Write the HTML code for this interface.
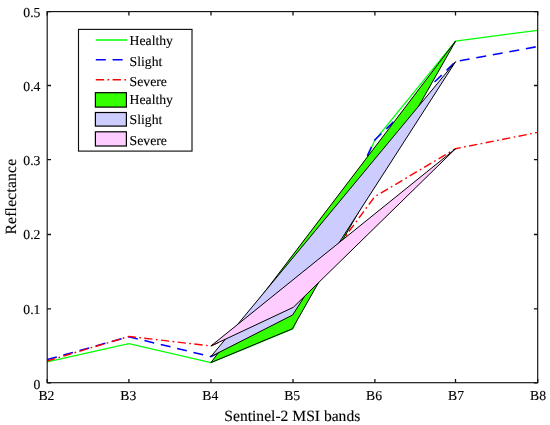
<!DOCTYPE html>
<html><head><meta charset="utf-8"><title>Reflectance</title>
<style>
html,body{margin:0;padding:0;background:#fff;}
body{width:550px;height:425px;overflow:hidden;}
svg{display:block;}
text{font-family:"Liberation Serif",serif;fill:#000;stroke:#000;stroke-width:0.12px;text-rendering:geometricPrecision;}
.t{font-size:13.7px;}
.g{font-size:13.7px;}
.l{font-size:15.6px;}
</style></head><body>
<svg width="550" height="425" viewBox="0 0 550 425">
<rect width="550" height="425" fill="#fff"/>
<polyline points="47.2,361.9 128.9,343.6 210.9,362.6 292.9,328.8 374.6,140.6 455.6,41.1 537.7,30.3" fill="none" stroke="#00ff00" stroke-width="1.3"/>
<polyline points="47.2,359.6 128.9,336.8 210.9,356.6 292.9,315.0 374.6,140.2 455.6,61.6 537.7,46.5" fill="none" stroke="#0000ff" stroke-width="1.55" stroke-dasharray="10.0,6.8"/>
<polyline points="47.2,361.0 128.9,336.4 210.9,346.0 292.9,307.3 374.6,196.8 455.6,148.7 537.7,132.4" fill="none" stroke="#ff0000" stroke-width="1.4" stroke-dasharray="8.3,3.4,1.7,3.4"/>
<polygon points="210.9,362.6 292.3,328.8 455.6,41.1" fill="#33ff00" stroke="#000" stroke-width="1"/>
<polygon points="210.9,356.6 292.6,315.0 455.6,61.6" fill="#ccccff" stroke="#000" stroke-width="1"/>
<polygon points="210.9,346.0 293.3,307.3 455.6,148.7" fill="#ffccff" stroke="#000" stroke-width="1"/>
<rect x="47.2" y="11.6" width="490.5" height="371.1" fill="none" stroke="#111" stroke-width="1.15"/>
<path d="M47.2,382.75v-3.8 M47.2,11.6v3.8 M128.9,382.75v-3.8 M128.9,11.6v3.8 M211.0,382.75v-3.8 M211.0,11.6v3.8 M293.0,382.75v-3.8 M293.0,11.6v3.8 M374.9,382.75v-3.8 M374.9,11.6v3.8 M455.5,382.75v-3.8 M455.5,11.6v3.8 M537.7,382.75v-3.8 M537.7,11.6v3.8 M47.2,382.8h3.8 M537.7,382.8h-3.8 M47.2,308.8h3.8 M537.7,308.8h-3.8 M47.2,234.5h3.8 M537.7,234.5h-3.8 M47.2,159.7h3.8 M537.7,159.7h-3.8 M47.2,85.5h3.8 M537.7,85.5h-3.8 M47.2,11.6h3.8 M537.7,11.6h-3.8" stroke="#111" stroke-width="1.3" fill="none"/>
<text class="t" x="46.4" y="400.35" text-anchor="middle">B2</text>
<text class="t" x="128.3" y="400.35" text-anchor="middle">B3</text>
<text class="t" x="210.3" y="400.35" text-anchor="middle">B4</text>
<text class="t" x="292.2" y="400.35" text-anchor="middle">B5</text>
<text class="t" x="374.1" y="400.35" text-anchor="middle">B6</text>
<text class="t" x="456.1" y="400.35" text-anchor="middle">B7</text>
<text class="t" x="538.0" y="400.35" text-anchor="middle">B8</text>
<text class="t" x="40.4" y="388.5" text-anchor="end">0</text>
<text class="t" x="40.4" y="313.8" text-anchor="end">0.1</text>
<text class="t" x="40.4" y="239.3" text-anchor="end">0.2</text>
<text class="t" x="40.4" y="165.1" text-anchor="end">0.3</text>
<text class="t" x="40.4" y="90.8" text-anchor="end">0.4</text>
<text class="t" x="40.4" y="16.5" text-anchor="end">0.5</text>
<text class="l" x="292.3" y="421.2" text-anchor="middle">Sentinel-2 MSI bands</text>
<text class="l" transform="translate(16.1,196.6) rotate(-90)" text-anchor="middle" letter-spacing="0.2">Reflectance</text>
<rect x="78.5" y="29.4" width="113.5" height="121.7" fill="#fff" stroke="#111" stroke-width="1.15"/>
<line x1="95.8" x2="127.3" y1="40.0" y2="40.0" stroke="#00ff00" stroke-width="1.3"/>
<line x1="95.8" x2="127.3" y1="59.8" y2="59.8" stroke="#0000ff" stroke-width="1.55" stroke-dasharray="10.0,6.8"/>
<line x1="95.8" x2="127.3" y1="79.75" y2="79.75" stroke="#ff0000" stroke-width="1.4" stroke-dasharray="8.3,3.4,1.7,3.4"/>
<rect x="95.4" y="92.7" width="31" height="14.4" fill="#33ff00" stroke="#000" stroke-width="1.2"/>
<rect x="95.4" y="112.5" width="31" height="13.6" fill="#ccccff" stroke="#000" stroke-width="1.2"/>
<rect x="95.4" y="131.8" width="31" height="14.2" fill="#ffccff" stroke="#000" stroke-width="1.2"/>
<text class="g" x="129.6" y="45.2">Healthy</text>
<text class="g" x="129.6" y="66.0">Slight</text>
<text class="g" x="129.6" y="85.7">Severe</text>
<text class="g" x="129.6" y="104.4">Healthy</text>
<text class="g" x="129.6" y="123.9">Slight</text>
<text class="g" x="129.6" y="144.9">Severe</text>
</svg></body></html>
